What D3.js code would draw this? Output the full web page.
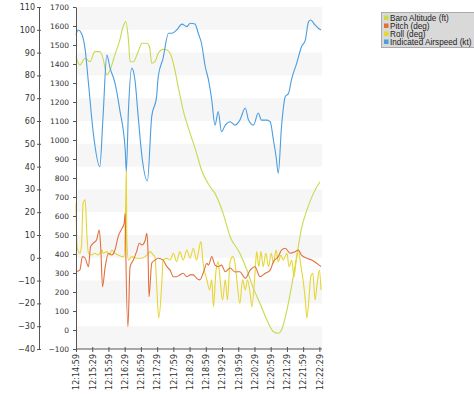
<!DOCTYPE html>
<html><head><meta charset="utf-8">
<script src="https://cdn.jsdelivr.net/npm/d3@7"></script>
<style>body{margin:0;background:#fff;} svg{display:block;}</style>
</head><body>
<svg id="c" width="474" height="395"></svg>
<script>
// ---- data ----
const startTime = "12:14:59";
const endTime = "12:22:32";
const tickLabels = ["12:14:59","12:15:29","12:15:59","12:16:29","12:16:59","12:17:29","12:17:59","12:18:29","12:18:59","12:19:29","12:19:59","12:20:29","12:20:59","12:21:29","12:21:59","12:22:29"];
const degTicks = [-40,-30,-20,-10,0,10,20,30,40,50,60,70,80,90,100,110];
const ftTicks = [-100,0,100,200,300,400,500,600,700,800,900,1000,1100,1200,1300,1400,1500,1600,1700];
const seriesNames = ["Baro Altitude (ft)","Pitch (deg)","Roll (deg)","Indicated Airspeed (kt)"];
const seriesColors = ["#c9d94f","#e2703f","#e6d634","#4a9de0"];

// seconds after 12:14:59
const altT = [0,7,17,26,35,44,50,57,63,69,75,81,87,92,97,100,106,115,122,131,136,140,146,152,161,168,174,180,189,198,211,223,232,248,257,272,285,303,316,328,340,353,365,374,380,390,399,408,417,427,439,451];
const altV = [1438,1395,1430,1412,1465,1465,1430,1342,1368,1421,1474,1526,1596,1623,1526,1412,1412,1465,1509,1509,1491,1404,1412,1456,1477,1474,1456,1404,1280,1158,1035,930,842,754,719,614,491,404,316,219,141,53,-9,-17,0,105,237,386,535,632,719,780];

const pitchT = [0,7,12,17,23,27,32,38,43,46,49,54,60,66,72,78,85,89,91,92,96,100,106,112,117,122,128,131,133,135,140,146,152,161,168,174,180,186,192,198,205,211,217,223,229,235,242,245,251,257,263,269,276,285,294,303,313,322,331,340,350,359,365,374,380,387,396,405,411,417,427,436,445,453];
const pitchV = [-6.1,-5.4,0.5,-0.2,-3.9,4.9,6.4,7.8,12.2,3.4,-12.7,-3.9,2.0,1.2,3.4,9.3,12.9,15.1,19.5,3.4,-30.2,-3.9,-1.0,2.7,6.4,5.6,7.8,10.7,3.4,-17.1,-2.4,-1.0,-0.2,-1.0,-3.9,-5.4,-8.3,-8.3,-7.5,-6.8,-8.3,-7.5,-7.5,-9.0,-9.7,-6.8,-2.4,-3.2,0.5,-3.2,-3.9,-3.2,-6.1,-4.5,-6.2,-6.1,-9.0,-5.4,-3.9,-8.3,-6.8,-5.4,-1.7,0.5,3.4,4.2,2.0,2.7,3.4,1.2,-0.2,-1.0,-2.4,-3.9];

const rollT = [0,2,7,10,13,17,20,23,29,35,41,48,50,57,62,66,72,78,85,89,92,93,94,97,103,112,122,131,137,143,146,149,153,159,161,168,174,180,186,192,198,205,211,217,223,226,231,235,242,247,251,254,259,263,266,271,276,280,285,290,294,298,303,308,313,317,322,325,331,334,338,342,346,351,356,361,365,370,374,379,383,390,394,399,403,407,411,416,419,424,427,431,434,438,442,446,450,453];
const rollV = [23.9,4.9,2.0,4.9,23.9,25.4,10.7,2.0,1.2,2.0,1.2,3.4,2.0,2.7,1.2,3.4,2.0,1.2,0.5,0.5,25.4,38.1,7.8,-1.0,0.5,-0.2,-0.2,1.2,2.7,1.2,0.5,-11.2,-26.4,-9.7,-1.0,-0.2,-1.0,2.0,-1.7,2.7,-1.0,3.4,-0.2,4.2,-1.0,2.0,7.1,-2.4,-9.7,-14.1,-9.7,-21.4,-5.4,-1.7,-8.3,-18.5,-9.7,-18.5,-1.7,0.5,-2.4,-11.2,-20.0,-9.7,-14.1,-9.7,-15.6,-21.4,-6.8,2.7,-3.9,2.7,-3.9,2.0,-3.9,2.0,-2.4,3.4,-1.7,1.2,-1.0,2.0,-3.9,-1.0,-8.3,-1.7,3.4,-3.9,-8.3,-18.5,-26.4,-17.1,-8.3,-6.8,-18.5,-11.2,-5.4,-14.1];

const iasT = [0,4,10,17,23,32,44,50,57,63,72,81,91,93,97,103,109,115,122,132,140,149,152,161,171,177,186,196,205,211,220,226,232,239,245,251,257,263,269,276,285,294,303,313,319,328,337,343,353,359,365,370,374,380,387,393,399,408,417,424,430,434,442,448,453];
const iasV = [97.7,99.9,98.5,91.2,76.7,54.7,40.0,61.9,88.9,83.2,76.7,64.8,47.3,37.9,64.8,83.2,78.0,61.9,44.3,33.7,61.9,70.7,79.4,87.5,98.5,98.5,99.9,102.5,101.4,102.9,102.5,98.5,94.1,83.8,78.0,69.2,58.2,64.1,55.3,58.2,59.7,58.2,60.4,65.7,60.4,58.2,63.5,60.4,60.4,59.7,51.7,44.3,37.1,57.5,70.7,72.2,78.7,85.3,92.6,95.5,103.6,104.3,102.1,100.7,99.9];

// ---- chart ----
const svg = d3.select("#c");
const parse = d3.timeParse("%H:%M:%S");
const t0 = parse(startTime);
const toDate = s => new Date(t0.getTime() + s * 1000);

const x = d3.scaleTime().domain([t0, parse(endTime)]).range([76, 321]);
const yDeg = d3.scaleLinear().domain([-40, 110]).range([349, 7]);
const yFt = d3.scaleLinear().domain([-100, 1700]).range([349, 7]);

// alternating bands
const bands = svg.append("g");
for (let i = 0; i < degTicks.length - 1; i++) {
  if (i % 2 === 0) {
    const top = degTicks[degTicks.length - 1 - i], bot = degTicks[degTicks.length - 2 - i];
    bands.append("rect").attr("x", x(t0)).attr("width", 322 - x(t0))
      .attr("y", yDeg(top)).attr("height", yDeg(bot) - yDeg(top)).attr("fill", "#f6f6f6");
  }
}

const lineG = svg.append("g").attr("fill", "none").attr("stroke-width", 1.1).attr("stroke-linejoin", "round");
function draw(T, V, yS, color) {
  const data = T.map((t, i) => [toDate(t), V[i]]);
  lineG.append("path").datum(data).attr("stroke", color)
    .attr("d", d3.line().x(d => x(d[0])).y(d => yS(d[1])).curve(d3.curveMonotoneX));
}
draw(altT, altV, yFt, seriesColors[0]);
draw(rollT, rollV, yDeg, seriesColors[2]);
draw(pitchT, pitchV, yDeg, seriesColors[1]);
draw(iasT, iasV, yDeg, seriesColors[3]);

const font = "DejaVu Sans, sans-serif";
// deg axis
const aDeg = svg.append("g").attr("transform", "translate(39,0)")
  .call(d3.axisLeft(yDeg).tickValues(degTicks).tickFormat(d3.format("d")).tickSize(2).tickPadding(2).tickSizeOuter(0));
aDeg.selectAll(".tick line").attr("x1", 2);
// ft axis
const aFt = svg.append("g").attr("transform", "translate(76,0)")
  .call(d3.axisLeft(yFt).tickValues(ftTicks).tickFormat(d3.format("d")).tickSize(3).tickPadding(4).tickSizeOuter(0));
// x axis
const aX = svg.append("g").attr("transform", "translate(0,349)")
  .call(d3.axisBottom(x).tickValues(tickLabels.map(parse)).tickFormat(d3.timeFormat("%H:%M:%S")).tickSize(3).tickSizeOuter(0));
aX.selectAll(".tick line").attr("y1", -2);
aX.select(".domain").attr("d", "M76,0H322");
aX.selectAll(".tick text").attr("transform", "rotate(-90)").attr("text-anchor", "end")
  .attr("x", -5).attr("y", 0).attr("dy", "0.35em");

[aDeg, aFt, aX].forEach(a => {
  a.selectAll("text").attr("font-family", font).attr("font-size", 8).attr("fill", "#333");
  a.selectAll("line,path").attr("stroke", "#555");
});
aFt.selectAll("text").attr("font-size", 7.5);

// legend
const lg = svg.append("g");
lg.append("rect").attr("x", 381.5).attr("y", 12.5).attr("width", 100).attr("height", 35)
  .attr("fill", "#d9d9d9").attr("stroke", "#aaa");
seriesNames.forEach((n, i) => {
  lg.append("rect").attr("x", 384).attr("y", 15.5 + i * 8).attr("width", 4.5).attr("height", 4.5).attr("fill", seriesColors[i]);
  lg.append("text").attr("x", 390).attr("y", 21 + i * 8).text(n)
    .attr("font-family", "Liberation Sans, sans-serif").attr("font-size", 8.2).attr("fill", "#222");
});
</script>
</body></html>
